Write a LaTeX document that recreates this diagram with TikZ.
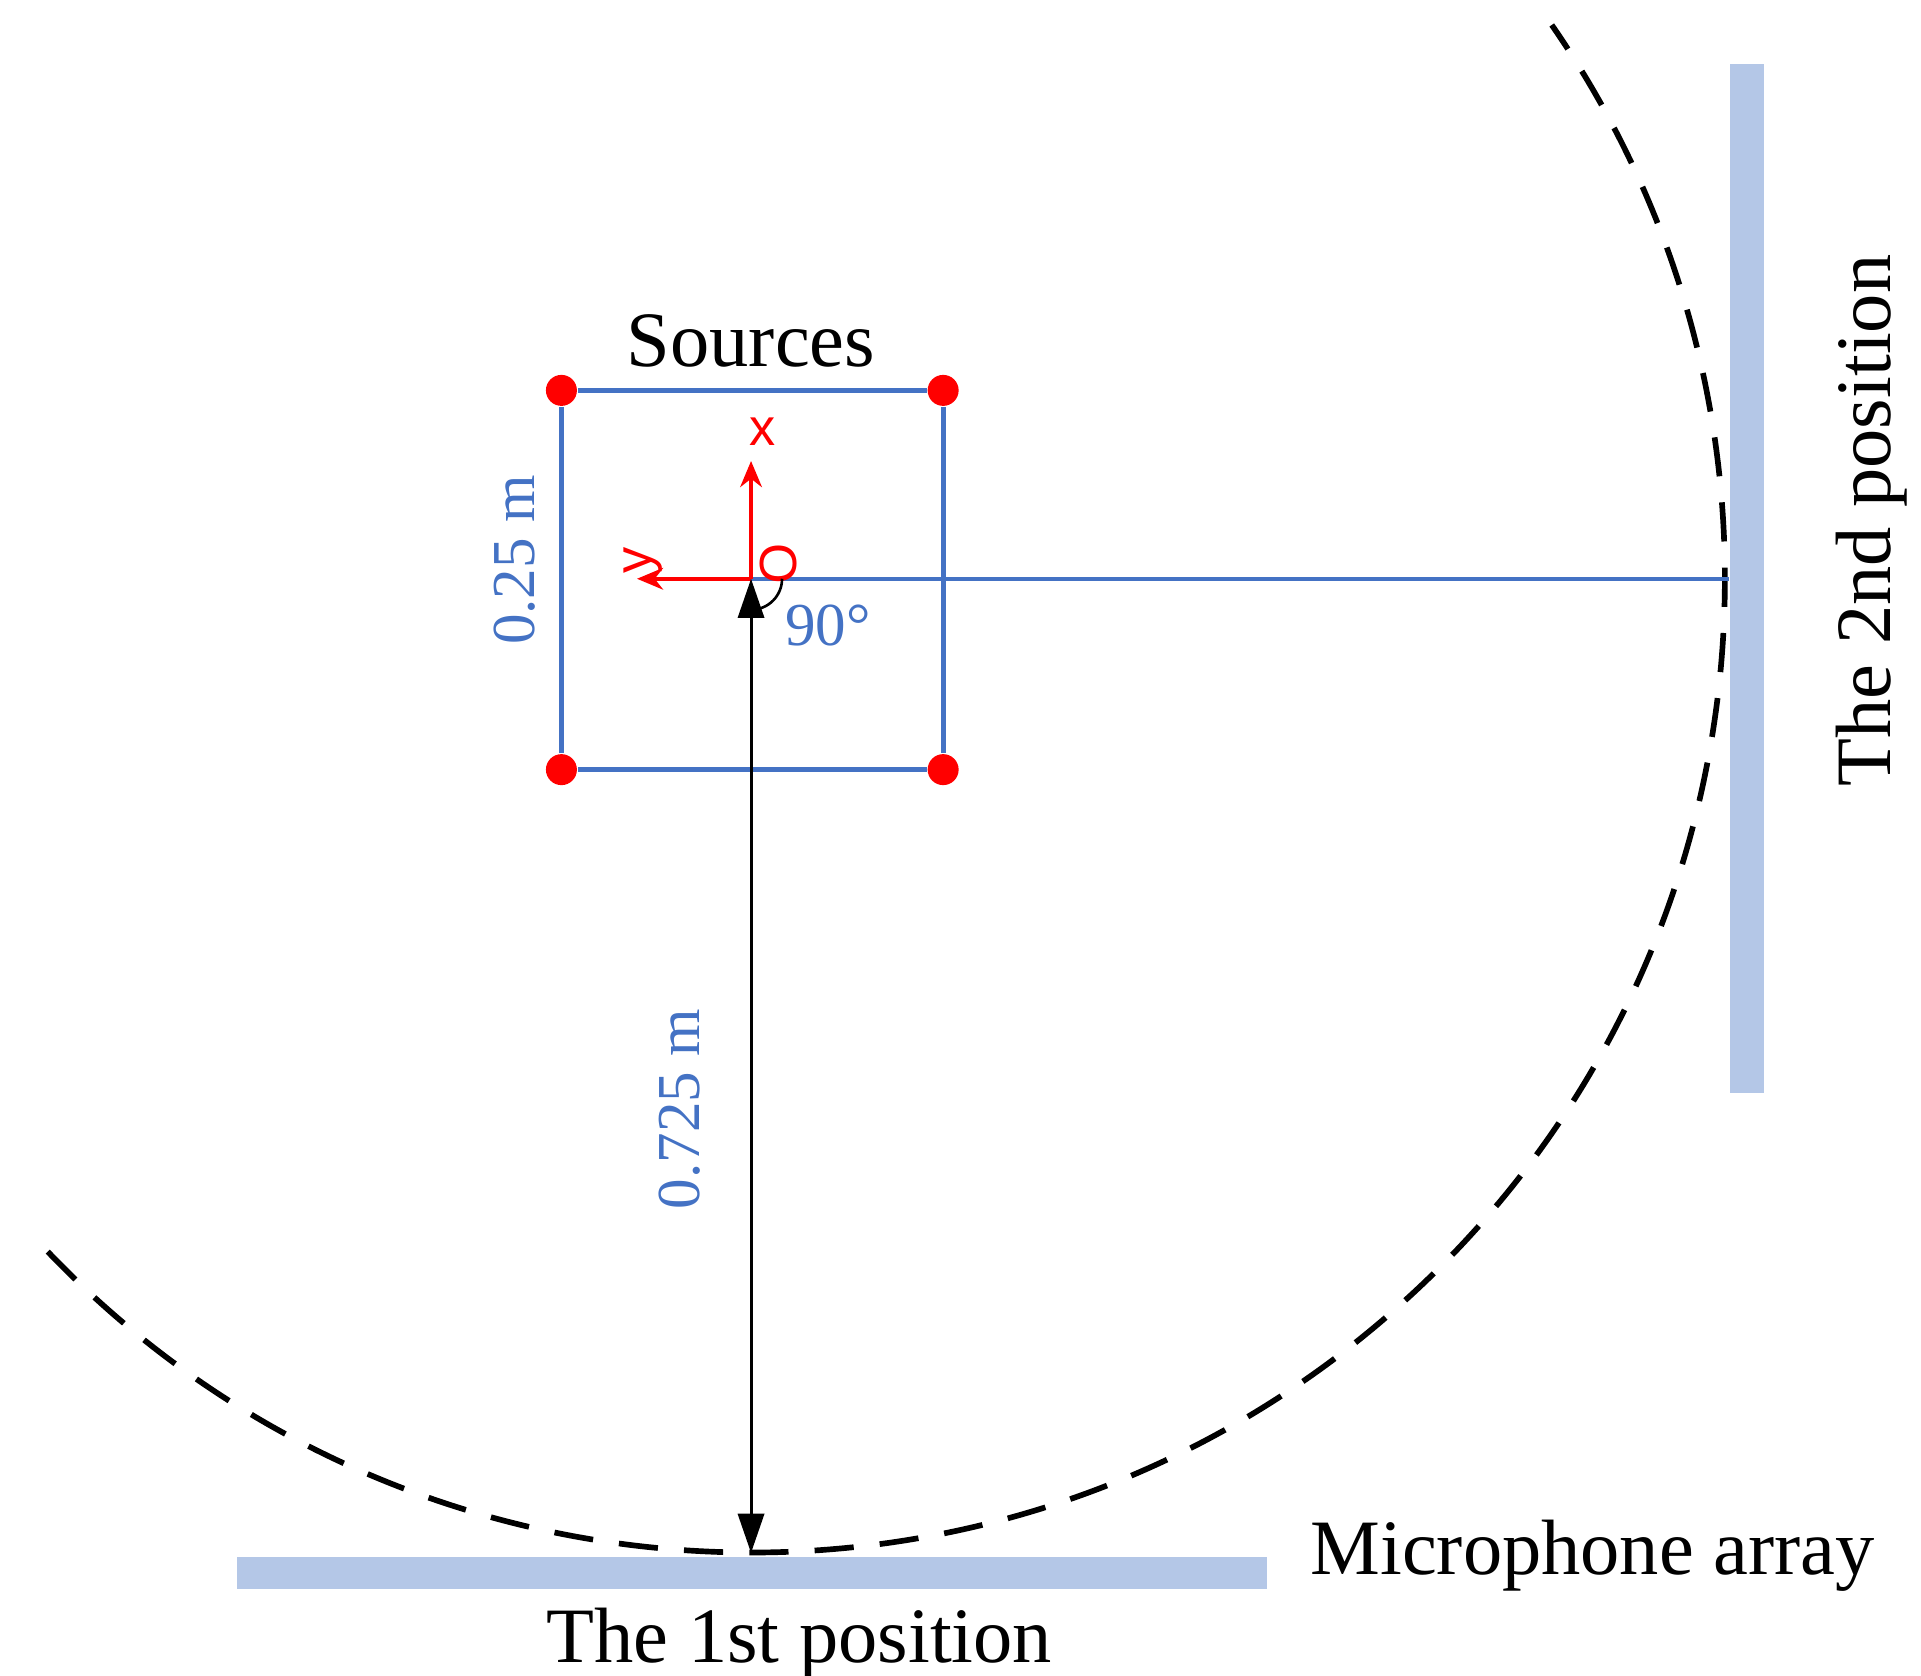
\documentclass[tikz,border=0pt]{standalone}
\usepackage{fontspec}
\setmainfont{Liberation Serif}
\newfontfamily\arialf{Liberation Sans}
\usetikzlibrary{arrows.meta}
\definecolor{lblue}{HTML}{4472C4}
\definecolor{barblue}{HTML}{B4C7E7}
\definecolor{myred}{HTML}{FF0000}
\tikzset{
  dot/.style={circle,fill=myred,inner sep=0pt,minimum size=0.25cm},
  bluetxt/.style={text=lblue,font=\fontsize{14}{16}\selectfont},
  bigtxt/.style={font=\fontsize{18}{20}\selectfont},
  redtxt/.style={text=myred,font=\arialf\fontsize{12}{14}\selectfont},
  bar/.style={fill=barblue,draw=none}
}
\begin{document}
\begin{tikzpicture}[x=0.01cm,y=-0.01cm]
\useasboundingbox (0,0) rectangle (1550,1352);
% bars
\fill[bar] (191,1256) rectangle (1022,1282);
\fill[bar] (1396,52) rectangle (1423,882);
% dashed circle
\coordinate (O) at (606,467);
\draw[line width=1.3pt,dash pattern=on 9pt off 6pt] ([shift={(223.7:7.85cm)}]6.06cm,-4.67cm) arc[start angle=223.7,end angle=394.7,radius=7.85cm];
% square
\node[dot] (s1) at (453,315) {};
\node[dot] (s2) at (761,315) {};
\node[dot] (s3) at (453,621) {};
\node[dot] (s4) at (761,621) {};
\draw[lblue,line width=1.2pt] (s1) -- (s2) -- (s4) -- (s3) -- (s1);
\coordinate (R) at (1395,467);
\draw[lblue,line width=0.8pt] (O) -- (R);
% axes
\coordinate (xe) at (606,372);
\coordinate (ye) at (514,467);
\draw[myred,line width=0.8pt,-{Stealth[length=6pt,width=5pt]}] (O) -- (xe);
\draw[myred,line width=0.8pt,-{Stealth[length=6pt,width=5pt]}] (O) -- (ye);
\node[redtxt] (xl) at (615,348) {x};
\node[redtxt,rotate=90] (yl) at (519,452) {y};
\node[redtxt,rotate=-90] (ol) at (628,455) {O};
% distance arrow
\coordinate (B) at (606,1253);
\draw[line width=0.7pt,{Triangle[length=9pt,width=6pt]}-{Triangle[length=9pt,width=6pt]}] (B) -- (O);
\draw[line width=0.6pt] (606,492) arc[start angle=270,end angle=360,radius=0.25cm];
% labels
\node[bluetxt] (ang) at (668,505) {90°};
\node[bluetxt,rotate=90] (l1) at (415,452) {0.25 m};
\node[bluetxt,rotate=90] (l2) at (548,895) {0.725 m};
\node[bigtxt] (src) at (606,275) {Sources};
\node[bigtxt,anchor=west] (mic) at (1045,1255) {Microphone array};
\node[bigtxt] (p1) at (645,1326) {The 1st position};
\node[bigtxt,rotate=90] (p2) at (1510,420) {The 2nd position};
\end{tikzpicture}
\end{document}
